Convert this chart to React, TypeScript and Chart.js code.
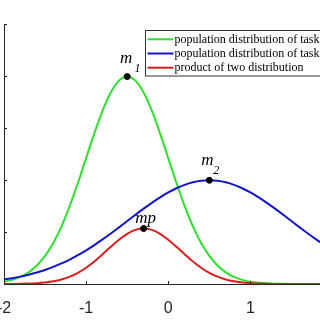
import React, { useEffect, useRef } from "react";
import { Chart, registerables } from "chart.js";

Chart.register(...registerables);

// Sample positions along the x axis
const xValues = [
  -2.0, -1.9, -1.8, -1.7, -1.6, -1.5, -1.4, -1.3, -1.2, -1.1, -1.0,
  -0.9, -0.8, -0.7, -0.6, -0.5, -0.4, -0.3, -0.2, -0.1, 0.0,
  0.1, 0.2, 0.3, 0.4, 0.5, 0.6, 0.7, 0.8, 0.9, 1.0,
  1.1, 1.2, 1.3, 1.4, 1.5, 1.6, 1.7, 1.8, 1.9, 2.0,
];

// Population distribution of task 1
const task1Density = [
  0.0089, 0.0158, 0.0272, 0.0448, 0.0710, 0.1080, 0.1579, 0.2219, 0.2995, 0.3884, 0.4840,
  0.5795, 0.6665, 0.7366, 0.7822, 0.7979, 0.7822, 0.7366, 0.6665, 0.5795, 0.4840,
  0.3884, 0.2995, 0.2219, 0.1579, 0.1080, 0.0710, 0.0448, 0.0272, 0.0158, 0.0089,
  0.0048, 0.0025, 0.0012, 0.0006, 0.0003, 0.0001, 0.0001, 0.0, 0.0, 0.0,
];

// Population distribution of task 2
const task2Density = [
  0.0175, 0.0224, 0.0283, 0.0355, 0.0440, 0.0540, 0.0656, 0.0790, 0.0940, 0.1109, 0.1295,
  0.1497, 0.1714, 0.1942, 0.2179, 0.2420, 0.2661, 0.2897, 0.3123, 0.3332, 0.3521,
  0.3683, 0.3814, 0.3910, 0.3970, 0.3989, 0.3970, 0.3910, 0.3814, 0.3683, 0.3521,
  0.3332, 0.3123, 0.2897, 0.2661, 0.2420, 0.2179, 0.1942, 0.1714, 0.1497, 0.1295,
];

// Product of the two distributions
const productDensity = [
  0.0002, 0.0004, 0.0008, 0.0016, 0.0031, 0.0058, 0.0104, 0.0175, 0.0282, 0.0431, 0.0627,
  0.0868, 0.1142, 0.1431, 0.1704, 0.1931, 0.2081, 0.2134, 0.2081, 0.1931, 0.1704,
  0.1431, 0.1142, 0.0868, 0.0627, 0.0431, 0.0282, 0.0175, 0.0104, 0.0058, 0.0031,
  0.0016, 0.0008, 0.0004, 0.0002, 0.0001, 0.0, 0.0, 0.0, 0.0, 0.0,
];

const seriesLabels = [
  "population distribution of task 1",
  "population distribution of task 2",
  "product of two distribution",
];

const xTicks = [-2, -1, 0, 1, 2];
const yTicks = [0, 0.2, 0.4, 0.6, 0.8, 1.0];

// Peak markers: m1, m2 and mp
const markerX = [-0.5, 0.5, -0.3];
const markerY = [0.7979, 0.3989, 0.2134];
const markerNames = ["m", "m", "mp"];
const markerSubscripts = ["1", "2", ""];

const GREEN = "#2ee02e";
const BLUE = "#1414c8";
const RED = "#d81e1e";
const AXIS = "#262626";
const SERIF = "'Liberation Serif', 'Times New Roman', serif";

// label offsets relative to each marker: [main dx, main dy, sub dx, sub dy]
const labelOffsets = [
  [-1, -13.4, 7.3, -5],
  [-2, -15.7, 4, -6.7],
  [2, -6, 0, 0],
];

const overlayPlugin = {
  id: "overlay",
  afterDraw(chart: any) {
    const { ctx, chartArea, scales } = chart;
    const xs = scales.x;
    const ys = scales.y;
    ctx.save();

    // inward tick marks
    ctx.strokeStyle = AXIS;
    ctx.lineWidth = 1;
    ctx.beginPath();
    for (const v of xTicks) {
      const px = Math.round(xs.getPixelForValue(v)) + 0.5;
      ctx.moveTo(px, chartArea.bottom);
      ctx.lineTo(px, chartArea.bottom - 3);
    }
    for (const v of yTicks) {
      const py = Math.round(ys.getPixelForValue(v)) + 0.5;
      ctx.moveTo(chartArea.left, py);
      ctx.lineTo(chartArea.left + 3, py);
    }
    ctx.stroke();

    // peak labels
    ctx.fillStyle = "#000";
    markerX.forEach((mx, i) => {
      const px = xs.getPixelForValue(mx);
      const py = ys.getPixelForValue(markerY[i]);
      const [dx, dy, sdx, sdy] = labelOffsets[i];
      ctx.font = `italic 17px ${SERIF}`;
      ctx.textAlign = "center";
      ctx.textBaseline = "alphabetic";
      ctx.fillText(markerNames[i], px + dx, py + dy);
      if (markerSubscripts[i]) {
        ctx.font = `italic 12px ${SERIF}`;
        ctx.textAlign = "left";
        ctx.fillText(markerSubscripts[i], px + sdx, py + sdy);
      }
    });

    // legend box
    const colors = [GREEN, BLUE, RED];
    ctx.font = `12px ${SERIF}`;
    const textW = Math.max(...seriesLabels.map((s) => ctx.measureText(s).width));
    const bx = chartArea.left + 141.5;
    const by = chartArea.top + 6.5;
    const bw = 29 + textW + 6;
    const bh = 45.5;
    ctx.fillStyle = "#fff";
    ctx.fillRect(bx, by, bw, bh);
    ctx.strokeStyle = "#333";
    ctx.lineWidth = 1;
    ctx.strokeRect(bx, by, bw, bh);
    seriesLabels.forEach((label, i) => {
      const ry = by + 8.8 + i * 14.2;
      ctx.strokeStyle = colors[i];
      ctx.lineWidth = 2;
      ctx.beginPath();
      ctx.moveTo(bx + 2, ry);
      ctx.lineTo(bx + 28, ry);
      ctx.stroke();
      ctx.fillStyle = "#000";
      ctx.textAlign = "left";
      ctx.textBaseline = "middle";
      ctx.fillText(label, bx + 29, ry + 0.5);
    });

    ctx.restore();
  },
};

export default function App() {
  const canvasRef = useRef<HTMLCanvasElement | null>(null);

  useEffect(() => {
    if (!canvasRef.current) return;
    const toPoints = (ys: number[]) => xValues.map((x, i) => ({ x, y: ys[i] }));
    const curve = (label: string, ys: number[], color: string) => ({
      type: "line" as const,
      label,
      data: toPoints(ys),
      borderColor: color,
      backgroundColor: color,
      borderWidth: 2,
      pointRadius: 0,
      cubicInterpolationMode: "monotone" as const,
      fill: false,
    });

    const chart = new Chart(canvasRef.current, {
      type: "line",
      data: {
        datasets: [
          {
            type: "scatter",
            label: "peaks",
            data: markerX.map((x, i) => ({ x, y: markerY[i] })),
            pointRadius: 3,
            pointBackgroundColor: "#000",
            pointBorderColor: "#000",
            showLine: false,
          } as any,
          curve(seriesLabels[2], productDensity, RED),
          curve(seriesLabels[1], task2Density, BLUE),
          curve(seriesLabels[0], task1Density, GREEN),
        ],
      },
      options: {
        responsive: false,
        animation: false,
        devicePixelRatio: 1,
        layout: { padding: { top: 24, right: 12, left: 0, bottom: 0 } },
        plugins: { legend: { display: false }, tooltip: { enabled: false } },
        scales: {
          x: {
            type: "linear",
            min: -2,
            max: 2,
            afterBuildTicks: (s: any) => {
              s.ticks = xTicks.map((value) => ({ value }));
            },
            afterFit: (s: any) => {
              s.height = 36;
            },
            ticks: {
              color: AXIS,
              padding: 15,
              font: { family: "'Liberation Sans', Arial, sans-serif", size: 16 },
            },
            grid: { display: false, drawTicks: false },
            border: { display: true, color: AXIS, width: 1 },
          },
          y: {
            type: "linear",
            min: 0,
            max: 1,
            afterBuildTicks: (s: any) => {
              s.ticks = yTicks.map((value) => ({ value }));
            },
            afterFit: (s: any) => {
              s.width = 40;
            },
            ticks: { display: false },
            grid: { display: false, drawTicks: false },
            border: { display: true, color: AXIS, width: 1 },
          },
        },
      },
      plugins: [overlayPlugin],
    });
    return () => chart.destroy();
  }, []);

  return (
    <div
      style={{
        position: "fixed",
        left: 0,
        top: 0,
        width: 320,
        height: 320,
        overflow: "hidden",
        background: "#fff",
      }}
    >
      <canvas
        ref={canvasRef}
        width={388}
        height={320}
        style={{ position: "absolute", left: -36, top: 0, width: 388, height: 320 }}
      />
    </div>
  );
}
